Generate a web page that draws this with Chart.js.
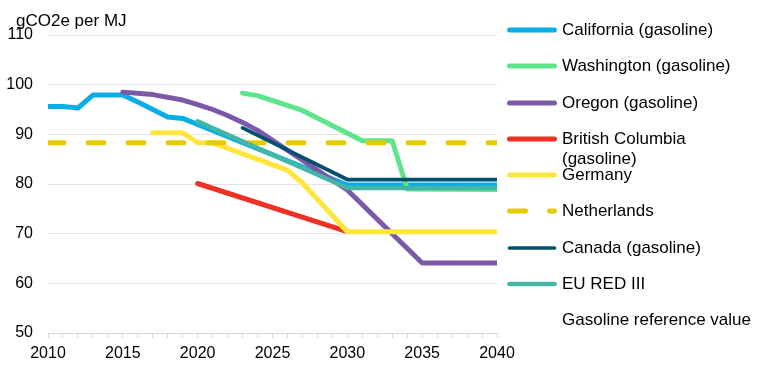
<!DOCTYPE html>
<html>
<head>
<meta charset="utf-8">
<script src="https://cdn.jsdelivr.net/npm/chart.js@4/dist/chart.umd.min.js"></script>
<style>
  body { margin: 0; background: #fff; }
  #wrap { position: relative; width: 768px; height: 367px; font-family: "Liberation Sans", Arial, sans-serif; color: #000; }
  #yTitle { position: absolute; left: 16px; top: 11px; font-size: 17px; line-height: 20px; white-space: nowrap; }
  .leg { position: absolute; left: 498px; height: 20px; }
  .leg svg { position: absolute; left: 0; top: 0; }
  .leg span { position: absolute; left: 64px; top: 0; font-size: 17px; line-height: 20px; white-space: pre; }
</style>
</head>
<body>
<div id="wrap">
  <canvas id="chart" width="768" height="367"></canvas>
  <div id="yTitle">gCO2e per MJ</div>
</div>
<script>
// x: year, y: gCO2e per MJ
const caYears = [2010, 2011, 2012, 2013, 2015, 2016, 2017, 2018, 2019, 2030, 2040];
const caVals  = [95.6, 95.6, 95.3, 97.9, 97.9, 96.5, 95.0, 93.5, 93.2, 79.8, 79.8];

const waYears = [2023, 2024, 2027, 2031, 2033, 2034, 2040];
const waVals  = [98.3, 97.8, 94.8, 88.7, 88.7, 79.0, 78.9];

const orYears = [2015, 2017, 2019, 2020, 2021, 2022, 2023, 2024, 2030, 2035, 2040];
const orVals  = [98.5, 98.0, 96.9, 96.0, 95.0, 93.8, 92.4, 90.8, 78.8, 64.1, 64.1];

const bcYears = [2020, 2030];
const bcVals  = [80.1, 70.4];

const deYears = [2017, 2019, 2020, 2021, 2026, 2027, 2030, 2040];
const deVals  = [90.3, 90.3, 88.3, 88.3, 82.8, 80.2, 70.4, 70.4];

const nlYears = [2010, 2040];
const nlVals  = [88.3, 88.3];

const cnYears = [2023, 2030, 2040];
const cnVals  = [91.3, 80.9, 80.9];

const euYears = [2020, 2030, 2040];
const euVals  = [92.6, 79.2, 79.2];

const labels = ['California (gasoline)', 'Washington (gasoline)', 'Oregon (gasoline)',
  'British Columbia\n(gasoline)', 'Germany', 'Netherlands', 'Canada (gasoline)', 'EU RED III',
  'Gasoline reference value'];

const yTicks = [50, 60, 70, 80, 90, 100, 110];
const xMin = 2010, xMax = 2040;

const series = [
  { x: caYears, y: caVals, color: '#0AAEE6', width: 5 },
  { x: waYears, y: waVals, color: '#5DE48C', width: 5 },
  { x: orYears, y: orVals, color: '#7A59A8', width: 5 },
  { x: bcYears, y: bcVals, color: '#EE3124', width: 5 },
  { x: deYears, y: deVals, color: '#FFE53C', width: 5 },
  { x: nlYears, y: nlVals, color: '#E6CB00', width: 5, dash: [16, 24] },
  { x: cnYears, y: cnVals, color: '#03506E', width: 3.7 },
  { x: euYears, y: euVals, color: '#45B6A6', width: 4.5 },
  { x: [], y: [], color: 'rgba(0,0,0,0)', width: 5 }
];

const datasets = series.map((s, i) => ({
  label: labels[i],
  data: s.x.map((yr, j) => ({ x: yr, y: s.y[j] })),
  borderColor: s.color,
  borderWidth: s.width,
  borderDash: s.dash || [],
  borderCapStyle: 'round',
  borderJoinStyle: 'round',
  pointRadius: 0,
  tension: 0,
  fill: false,
  order: 20 - i // later series on top, like the original
}));

new Chart(document.getElementById('chart'), {
  type: 'line',
  data: { datasets },
  options: {
    responsive: false,
    animation: false,
    devicePixelRatio: 1,
    layout: { padding: { left: 0, right: 271, top: 35, bottom: 0 } },
    plugins: { legend: { display: false }, tooltip: { enabled: false } },
    scales: {
      x: {
        type: 'linear',
        min: xMin,
        max: xMax,
        afterFit: (scale) => { scale.height = 34; },
        ticks: {
          stepSize: 1,
          autoSkip: false,
          maxRotation: 0,
          padding: 6,
          color: '#000',
          font: { family: '"Liberation Sans", Arial', size: 16 },
          callback: (v) => (v % 5 === 0 ? String(v) : '')
        },
        grid: { drawOnChartArea: false, drawTicks: true, tickLength: 5, color: '#D9D9D9' },
        border: { color: '#D9D9D9', width: 1 }
      },
      y: {
        min: yTicks[0],
        max: yTicks[yTicks.length - 1],
        afterFit: (scale) => { scale.width = 48; },
        afterBuildTicks: (scale) => { scale.ticks = yTicks.map(v => ({ value: v })); },
        ticks: {
          padding: 15,
          color: '#000',
          font: { family: '"Liberation Sans", Arial', size: 16 }
        },
        grid: { drawTicks: false, color: '#E3E3E3' },
        border: { display: false }
      }
    }
  }
});

// legend on the right, built from the same series
const wrap = document.getElementById('wrap');
series.forEach((s, i) => {
  const cy = 30 + i * 36.25;
  const div = document.createElement('div');
  div.className = 'leg';
  div.style.top = (cy - 10) + 'px';
  const dash = s.dash ? ` stroke-dasharray="${s.dash.join(' ')}"` : '';
  div.innerHTML =
    `<svg width="64" height="20"><line x1="11.5" y1="10" x2="56.5" y2="10" stroke="${s.color}" ` +
    `stroke-width="${s.width}" stroke-linecap="round"${dash}/></svg><span></span>`;
  div.querySelector('span').textContent = labels[i];
  wrap.appendChild(div);
});
</script>
</body>
</html>
